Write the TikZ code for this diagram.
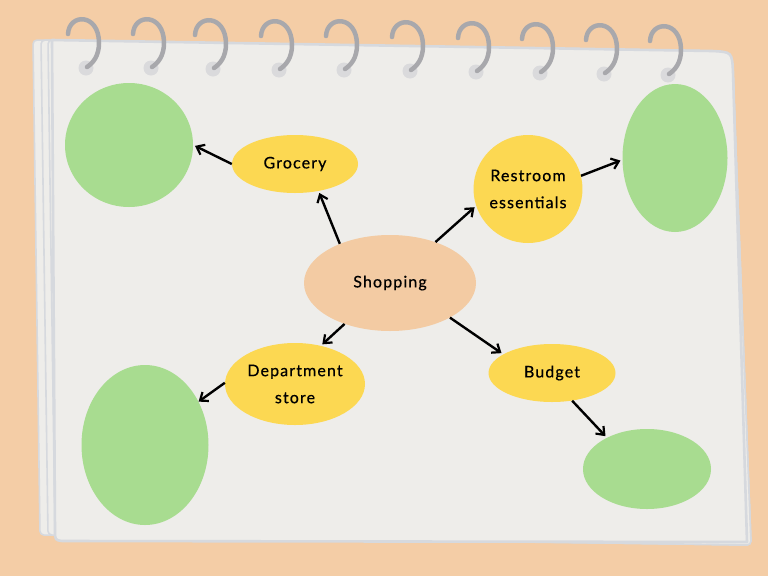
\documentclass[tikz,border=0pt]{standalone}
\usepackage{fontspec}
\setmainfont{Lato}[LetterSpace=7,FakeBold=0.5]
\usetikzlibrary{shapes.geometric,arrows.meta}
\definecolor{bgpeach}{RGB}{244,205,166}
\definecolor{paper}{RGB}{238,237,234}
\definecolor{paperedge}{RGB}{214,217,222}
\definecolor{leafgreen}{RGB}{168,220,144}
\definecolor{subyellow}{RGB}{252,216,82}
\definecolor{rootpeach}{RGB}{243,203,163}
\definecolor{ringgray}{RGB}{168,168,172}
\definecolor{holegray}{RGB}{218,218,220}
\begin{document}
\begin{tikzpicture}[x=1pt,y=-1pt,
  leaf/.style={ellipse, fill=leafgreen, inner sep=0pt},
  sub/.style={ellipse, fill=subyellow, inner sep=0pt, align=center, font=\fontsize{16}{27}\selectfont},
  root/.style={ellipse, fill=rootpeach, inner sep=0pt, font=\fontsize{16}{27}\selectfont},
  arr/.style={-{Straight Barb[length=7pt,width=11pt,line width=2.2pt]}, line width=2.4pt, black, shorten >=2pt},
  backpage/.style={fill=paper, draw=paperedge, line width=1.6pt, line join=round, rounded corners=4pt},
  frontpage/.style={fill=paper, draw=paperedge, line width=2.6pt, line join=round},
  ring/.style={draw=ringgray, line width=4.5pt, line cap=round},
  hole/.style={fill=holegray}]
\useasboundingbox (0,0) rectangle (768,576);
\fill[bgpeach] (0,0) rectangle (768,576);

% stacked back pages
\foreach \d in {0,8,15}{
  \draw[backpage] (33+\d,40) -- (712,51) -- (733,72) -- (751,545) -- (40+\d,535) -- cycle;
}
\draw[frontpage] (52,40) -- (712,51) .. controls (732,52) .. (733,72) -- (747,542) -- (62,541) .. controls (55,540) .. (55,530) -- cycle;

% rings
\foreach \hx/\hy in {86/68,151/68,213/69,279/70,344/70,410/71,476/72,540/73,604/74,668/75}{
  \fill[hole] (\hx,\hy) circle (7.5);
  \draw[ring] (\hx-18,\hy-34) .. controls (\hx-17,\hy-55) and (\hx+13,\hy-55) .. (\hx+13,\hy-25)
     .. controls (\hx+13,\hy-12) and (\hx+7,\hy-5) .. (\hx+1,\hy-1);
}

% nodes
\node[leaf, minimum width=128pt, minimum height=124pt] (tl) at (129,145) {};
\node[leaf, minimum width=105pt, minimum height=148pt] (tr) at (675,158) {};
\node[leaf, minimum width=127pt, minimum height=160pt] (bl) at (145,445) {};
\node[leaf, minimum width=128pt, minimum height=80pt] (br) at (647,469) {};

\node[sub, minimum width=126pt, minimum height=58pt] (groc) at (295,164) {Grocery};
\node[sub, minimum width=104pt, minimum height=108pt] (rest) at (528,189) {Restroom\\essentials};
\node[root, minimum width=172pt, minimum height=96pt] (shop) at (390,283) {Shopping};
\node[sub, minimum width=140pt, minimum height=82pt] (dept) at (295,384) {Department\\store};
\node[sub, minimum width=127pt, minimum height=58pt] (budg) at (552,373) {Budget};

% connectors
\draw[arr] (shop.142) -- (groc.311);
\draw[arr] (groc.180) -- (tl.0);
\draw[arr] (shop.42) -- (rest.198);
\draw[arr] (rest.14) -- (tr.182);
\draw[arr] (shop.222) -- (dept.56);
\draw[arr, shorten >=0pt] (dept.179) -- (bl.39);
\draw[arr] (shop.330) -- (budg.159);
\draw[arr] (budg.306) -- (br.142);
\end{tikzpicture}
\end{document}
